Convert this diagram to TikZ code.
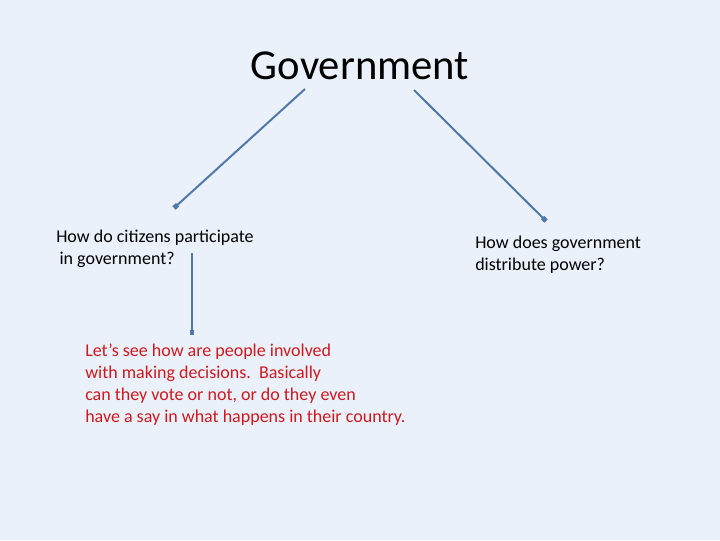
\documentclass[tikz,border=0pt]{standalone}
\usepackage{fontspec}
\setmainfont{Carlito}
\usetikzlibrary{arrows.meta}
\definecolor{bg}{RGB}{234,241,250}
\definecolor{linkblue}{RGB}{79,121,168}
\definecolor{notered}{RGB}{208,24,30}
\tikzset{
  heading/.style={font=\fontsize{32}{38}\selectfont, text=black, inner sep=0pt, anchor=base},
  question/.style={font=\fontsize{13.5}{16.5}\selectfont, text=black, align=left, inner sep=0pt, anchor=base west},
  note/.style={font=\fontsize{13.5}{16.3}\selectfont, text=notered, align=left, inner sep=0pt, anchor=base west},
  link/.style={draw=linkblue, line width=1.5pt, -{Square[length=3.6pt,width=3.6pt]}}
}
\begin{document}
\begin{tikzpicture}[x=0.75pt,y=-0.75pt]
  \fill[bg] (0,0) rectangle (720,540);
  \useasboundingbox (0,0) rectangle (720,540);
  \node[heading] (gov) at (360,79) {Government};
  \node[question] (cit) at (56,264) {How do citizens participate\\\hspace*{2.5pt}in government?};
  \node[question] (pow) at (475,270.5) {How does government\\distribute power?};
  \node[note] (lets) at (85,422) {Let’s see how are people involved\\with making decisions.\ \ Basically\\can they vote or not, or do they even\\have a say in what happens in their country.};
  \coordinate (g1) at (305,89);
  \coordinate (g2) at (414,90);
  \coordinate (c1) at (174,208);
  \coordinate (p1) at (546,221);
  \coordinate (q1) at (192,253);
  \coordinate (l1) at (192,335);
  \draw[link] (g1) -- (c1);
  \draw[link] (g2) -- (p1);
  \draw[link] (q1) -- (l1);
\end{tikzpicture}
\end{document}
